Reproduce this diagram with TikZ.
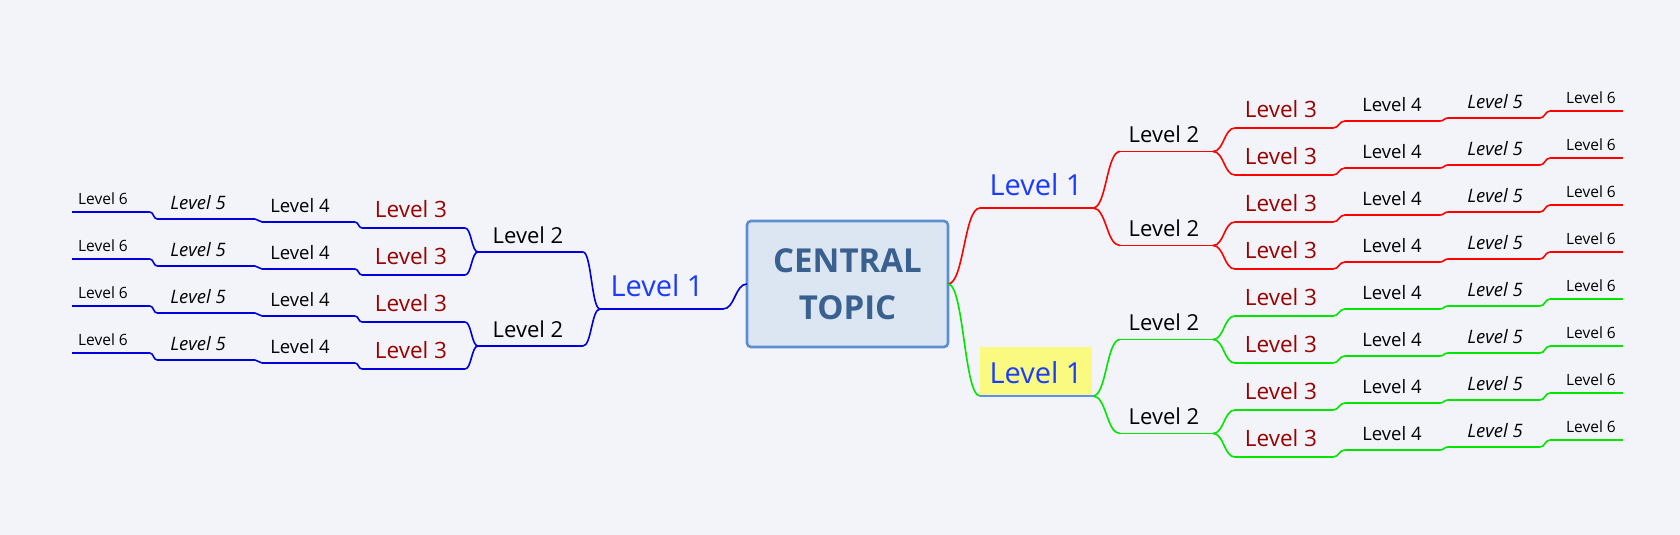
\documentclass[tikz,border=0pt]{standalone}
\usepackage{fontspec}
\setmainfont{Open Sans}
\definecolor{bg}{HTML}{F3F4F9}
\definecolor{lone}{HTML}{1A3CFF}
\definecolor{lthree}{HTML}{990000}
\definecolor{rred}{HTML}{FF0000}
\definecolor{ggreen}{HTML}{00E600}
\definecolor{lblue}{HTML}{0000DD}
\definecolor{boxfill}{HTML}{DCE6F2}
\definecolor{boxdraw}{HTML}{5B8FD0}
\definecolor{boxtext}{HTML}{3A6090}
\definecolor{hl}{HTML}{FAFA80}
\definecolor{hlline}{HTML}{5B8FFF}
\newcommand{\mmconn}[5]{\draw[#1,line width=1.6pt] (#2,#3) .. controls ({(#2+#4)/2},#3) and ({(#2+#4)/2},#5) .. (#4,#5);}
\tikzset{
 tone/.style={text=lone,font=\fontsize{29}{30}\selectfont,inner sep=0pt},
 ttwo/.style={text=black,font=\fontsize{22}{24}\selectfont,inner sep=0pt},
 tthree/.style={text=lthree,font=\fontsize{22.5}{24}\selectfont,inner sep=0pt},
 tfour/.style={text=black,font=\fontsize{18.5}{20}\selectfont,inner sep=0pt},
 tfive/.style={text=black,font=\fontsize{18.5}{20}\selectfont\itshape,inner sep=0pt},
 tsix/.style={text=black,font=\fontsize{15.5}{17}\selectfont,inner sep=0pt},
 ln/.style={line width=1.6pt},
}
\begin{document}
\begin{tikzpicture}[x=1pt,y=-1pt]
\fill[bg] (0,0) rectangle (1680,535);
\useasboundingbox (0,0) rectangle (1680,535);
% central
\node[draw=boxdraw,line width=2.6pt,fill=boxfill,rounded corners=4pt,minimum width=201pt,minimum height=126pt,inner sep=0pt,align=center,text=boxtext,font=\fontsize{33}{47}\selectfont\bfseries] (ct) at (847.5,284) {CENTRAL\\TOPIC};
% right side
\foreach \r in {0,...,7}{
  \pgfmathsetmacro{\b}{111+47*\r}
  \ifnum\r<4 \def\cc{rred}\else\def\cc{ggreen}\fi
  \pgfmathsetmacro{\ya}{\b+17}\pgfmathsetmacro{\yb}{\b+10}\pgfmathsetmacro{\yc}{\b+7}
  \draw[\cc,ln] (1235,\ya) -- (1333,\ya);
  \mmconn{\cc}{1333}{\ya}{1345}{\yb}
  \draw[\cc,ln] (1345,\yb) -- (1440,\yb);
  \mmconn{\cc}{1440}{\yb}{1448}{\yc}
  \draw[\cc,ln] (1448,\yc) -- (1540,\yc);
  \mmconn{\cc}{1540}{\yc}{1550}{\b}
  \draw[\cc,ln] (1550,\b) -- (1623,\b);
  \node[tthree] (r3\r) at (1281,\ya-19) {Level 3};
  \node[tfour] (r4\r) at (1392,\yb-16) {Level 4};
  \node[tfive] (r5\r) at (1495,\yc-16) {Level 5};
  \node[tsix] (r6\r) at (1591,\b-13) {Level 6};
}
% right level 2
\foreach \p in {0,...,3}{
  \pgfmathsetmacro{\y}{151.5+94*\p}
  \ifnum\p<2 \def\cc{rred}\pgfmathsetmacro{\yl}{208}\else\def\cc{ggreen}\pgfmathsetmacro{\yl}{396}\fi
  \pgfmathsetmacro{\yu}{\y-23.5}\pgfmathsetmacro{\yd}{\y+23.5}
  \draw[\cc,ln] (1120,\y) -- (1213,\y);
  \mmconn{\cc}{1213}{\y}{1235}{\yu}
  \mmconn{\cc}{1213}{\y}{1235}{\yd}
  \mmconn{\cc}{1093}{\yl}{1120}{\y}
  \node[ttwo] (r2\p) at (1164,\y-17) {Level 2};
}
% right level 1
\fill[hl] (980,347) rectangle (1092,396);
\draw[rred,ln] (980,208) -- (1093,208);
\draw[hlline,ln] (980,396) -- (1093,396);
\mmconn{rred}{948}{284}{980}{208}
\mmconn{ggreen}{948}{284}{980}{396}
\node[tone] (r1a) at (1036,185) {Level 1};
\node[tone] (r1b) at (1036,373) {Level 1};
% left side
\foreach \r in {0,...,3}{
  \pgfmathsetmacro{\b}{212+47*\r}
  \pgfmathsetmacro{\ya}{\b+16}\pgfmathsetmacro{\yb}{\b+10}\pgfmathsetmacro{\yc}{\b+7}
  \draw[lblue,ln] (72,\b) -- (150,\b);
  \mmconn{lblue}{150}{\b}{157}{\yc}
  \draw[lblue,ln] (157,\yc) -- (255,\yc);
  \mmconn{lblue}{255}{\yc}{262}{\yb}
  \draw[lblue,ln] (262,\yb) -- (355,\yb);
  \mmconn{lblue}{355}{\yb}{362}{\ya}
  \draw[lblue,ln] (362,\ya) -- (465,\ya);
  \node[tsix] (l6\r) at (103,\b-13) {Level 6};
  \node[tfive] (l5\r) at (198,\yc-16) {Level 5};
  \node[tfour] (l4\r) at (300,\yb-16) {Level 4};
  \node[tthree] (l3\r) at (411,\ya-19) {Level 3};
}
\foreach \p in {0,1}{
  \pgfmathsetmacro{\y}{252+94*\p}
  \pgfmathsetmacro{\yu}{\y-24}\pgfmathsetmacro{\yd}{\y+23}
  \draw[lblue,ln] (478,\y) -- (583,\y);
  \mmconn{lblue}{465}{\yu}{478}{\y}
  \mmconn{lblue}{465}{\yd}{478}{\y}
  \mmconn{lblue}{583}{\y}{600}{309}
  \node[ttwo] (l2\p) at (528,\y-17) {Level 2};
}
\draw[lblue,ln] (600,309) -- (723,309);
\mmconn{lblue}{723}{309}{747}{284}
\node[tone] (l1) at (657,286) {Level 1};
\end{tikzpicture}
\end{document}
